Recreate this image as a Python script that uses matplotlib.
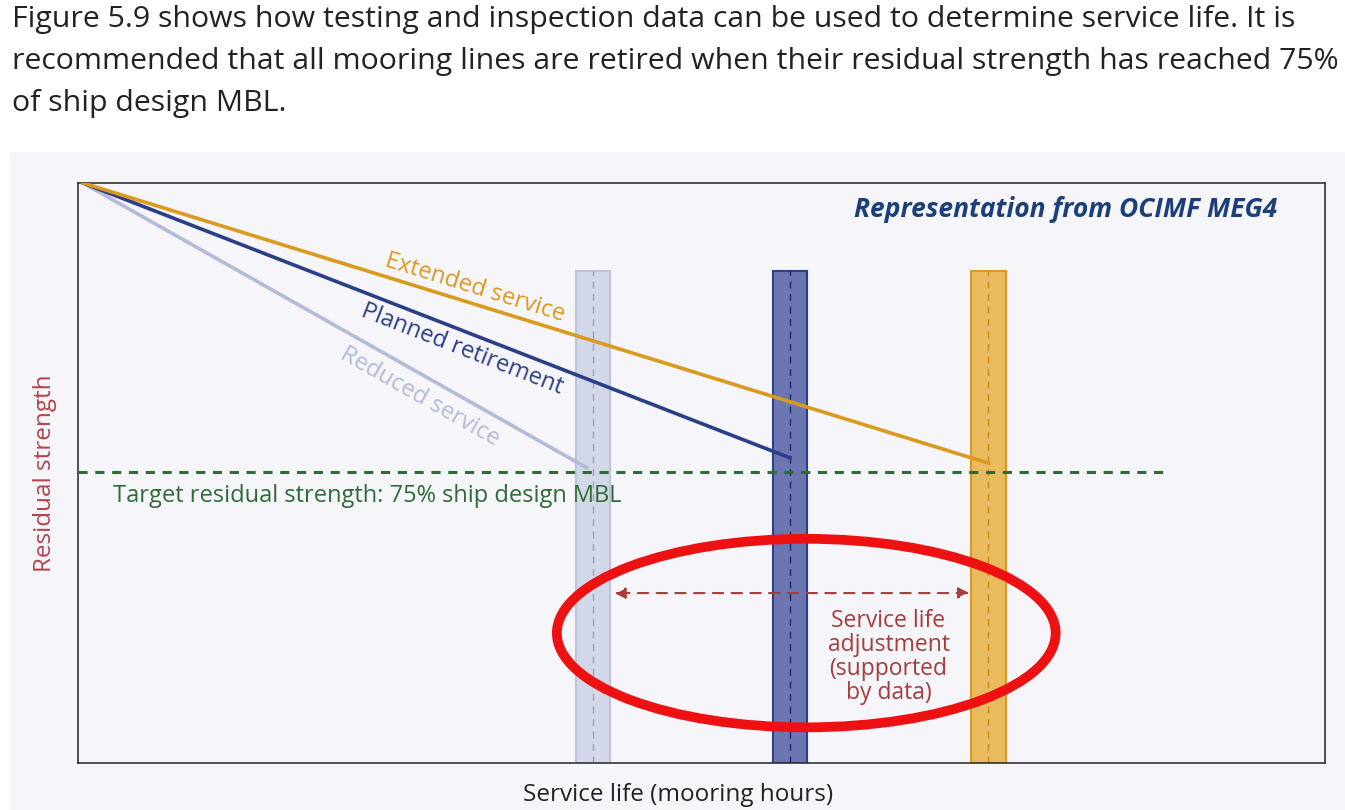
import matplotlib
matplotlib.use("Agg")
import matplotlib.pyplot as plt
from matplotlib.patches import Ellipse, Rectangle
import numpy as np

# data (axis units 0-100)
series = ["Extended service", "Planned retirement", "Reduced service"]
start_x, start_y = 0.4, 100.0
end_x = [73.0, 57.1, 40.8]
end_y = [51.7, 52.6, 50.9]
label_x = [31.8, 30.8, 27.4]
label_y = [82.0, 71.3, 63.2]
label_rot = [-17.2, -21.3, -29.5]
colors = ["#d99a1e", "#2b3f86", "#b3bbd6"]
bar_x = [41.3, 57.1, 73.0]
bar_face = ["#d3d8e8", "#6c76b2", "#e9bb5e"]
bar_edge = ["#bcc3da", "#2b3f86", "#d99a1e"]
bar_dash = ["#9aa0b8", "#1c2a66", "#c98a10"]
bar_top = 84.8
target_y = 50.2
target_xmax = 87.2
arrow_x = [42.8, 71.7]
arrow_y = 29.3

fig = plt.figure(figsize=(13.45, 8.10), dpi=100)
fig.patch.set_facecolor("white")
W, H = 1345, 810

para = ["Figure 5.9 shows how testing and inspection data can be used to determine service life. It is",
        "recommended that all mooring lines are retired when their residual strength has reached 75%",
        "of ship design MBL."]
for i, t in enumerate(para):
    fig.text(12 / W, 1 - (20 + 42 * i) / H, t, fontsize=21.8, family="Open Sans", color="#222222", va="center")

bg = fig.add_axes([10 / W, 0, 1 - 10 / W, 1 - 152 / H])
bg.set_facecolor("#f5f5fa"); bg.set_xticks([]); bg.set_yticks([])
for s in bg.spines.values(): s.set_visible(False)

ax = fig.add_axes([78 / W, 1 - 763 / H, 1247 / W, 580 / H])
ax.set_facecolor("#f5f5fa")
ax.set_xlim(0, 100); ax.set_ylim(0, 100)
ax.set_xticks([]); ax.set_yticks([])
for s in ax.spines.values():
    s.set_color("#333333"); s.set_linewidth(1.2)

for bx, fc, ec, dc in zip(bar_x, bar_face, bar_edge, bar_dash):
    ax.add_patch(Rectangle((bx - 1.4, 0), 2.8, bar_top, facecolor=fc, edgecolor=ec, lw=1.5, zorder=1))
    ax.plot([bx, bx], [0, bar_top], ls=(0, (5, 4)), color=dc, lw=1, zorder=2)

ax.plot([0, target_xmax], [target_y, target_y], ls=(0, (3, 2.5)), color="#2e6b35", lw=2.2, zorder=3)
ax.text(2.8, 46.0, "Target residual strength: 75% ship design MBL", color="#2e6b35", fontsize=17,
        family="Open Sans", va="center", zorder=5)

for i in [2, 1, 0]:
    ax.plot([start_x, end_x[i]], [start_y, end_y[i]], color=colors[i], lw=2.6, zorder=4)
    ax.text(label_x[i], label_y[i], series[i], color=colors[i], fontsize=17, family="Open Sans",
            rotation=label_rot[i], rotation_mode="anchor", ha="center", va="center", zorder=5)

ax.annotate("", xy=(arrow_x[0], arrow_y), xytext=(arrow_x[1], arrow_y),
            arrowprops=dict(arrowstyle="<|-|>", ls=(0, (5, 4)), color="#a83c3c", lw=1.5, mutation_scale=16), zorder=5)
ax.text(65.0, 18.3, "Service life\nadjustment\n(supported\nby data)", color="#a83c3c", fontsize=16.5,
        family="Open Sans", ha="center", va="center", linespacing=1.0, zorder=5,
        bbox=dict(facecolor="#f5f5fa", edgecolor="none", pad=1))

ax.add_patch(Ellipse((58.4, 22.4), 40.0, 32.5, facecolor="none", edgecolor="#ee1111", lw=7, zorder=6, clip_on=False))

ax.text(96.2, 95.5, "Representation from OCIMF MEG4", color="#1a3f7a", fontsize=19, fontweight="bold",
        style="italic", family="Open Sans", ha="right", va="center")

fig.text(45 / W, 1 - 473 / H, "Residual strength", rotation=90, color="#b5434a", fontsize=17.5,
         family="Open Sans", ha="center", va="center")
fig.text(678 / W, 1 - 795 / H, "Service life (mooring hours)", color="#222222", fontsize=17.5,
         family="Open Sans", ha="center", va="center")

fig.savefig("out.png", dpi=100)
